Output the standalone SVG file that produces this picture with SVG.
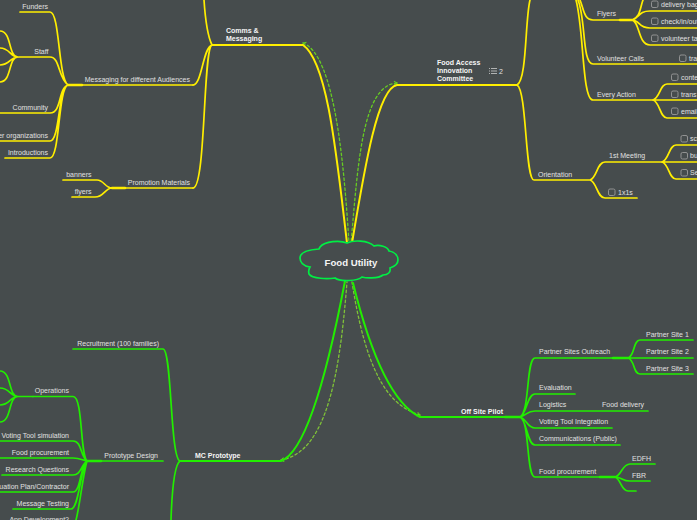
<svg xmlns="http://www.w3.org/2000/svg" width="697" height="520" viewBox="0 0 697 520">
<defs>
<marker id="ah" orient="auto-start-reverse" markerUnits="userSpaceOnUse" markerWidth="6" markerHeight="6" refX="4" refY="3" viewBox="0 0 6 6"><path d="M1 1L4 3L1 5" fill="none" stroke="#66cc22" stroke-width="1"/></marker>
</defs>
<style>
text{font-family:"Liberation Sans",Arial,sans-serif;font-size:7px;fill:#e0e0e0}
.b{font-weight:bold;fill:#f5f5f5}
.e{text-anchor:end}
.y,.g,.yd,.gd,.y2,.g2,.ym,.gm{fill:none;stroke-linecap:round}
.y{stroke:#ffee00;stroke-width:1.7}
.g{stroke:#22ee00;stroke-width:1.7}
.ym{stroke:#ffee00;stroke-width:2}
.gm{stroke:#22ee00;stroke-width:2}
.y2{stroke:#ffee00;stroke-width:2.6}
.g2{stroke:#22ee00;stroke-width:2.6}
.yd,.gd{stroke-width:1.300;stroke-dasharray:2.500 2.500;marker-start:url(#ah)}
.yd{stroke:#66cc22}
.gd{stroke:#7fc238}
.c{fill:none;stroke:#9a9a9a;stroke-width:.9}
</style>
<rect width="697" height="520" fill="#464c4d"/>
<g id="connectors">
<path class="yd" d="M303 43C335 55 344 165 349 243"/>
<path class="yd" d="M397 83C362 85 358 165 351 243"/>
<path class="gd" d="M281 460C328 452 340 370 347 282"/>
<path class="gd" d="M420 415C385 405 365 365 352 282"/>
<path class="ym" d="M303 45H212M303 45C328 62 337 160 347 243"/>
<path class="ym" d="M517 85H397C378 88 365 165 352 243"/>
<path class="y" d="M193 85C202 85 203 47 212 45M193 188C206 188 203 47 212 45M212 45C207 35 205 15 204 0"/>
<path class="y" d="M193 85H68M193 188H112"/>
<path class="y2" d="M68 85H82M112 188H125"/>
<path class="y" d="M20 12H50C60 12 58 78 68 85M50 57C60 57 58 78 68 85M19 57H50M0 113H50C62 113 58 88 68 85M0 141H50C60 141 58 88 68 85M5 158H50C60 158 58 88 68 85"/>
<path class="y" d="M0 31C12 31 8 57 18 57M0 48C10 48 10 57 18 57M0 65C10 65 10 57 18 57M0 82C12 82 8 57 18 57"/>
<path class="y" d="M63 180H97C104 180 105 188 112 188M72 197H95C104 197 105 188 112 188"/>
<path class="y" d="M517 85C527 80 525 20 530 0M517 85C527 90 525 180 534 180H590M590 180C597 178 597 162 605 162H662M590 180C597 182 597 198 605 198H637"/>
<path class="y" d="M580 0C584 10 584 20 593 20H632M578 0C586 20 582 64 593 64H697M576 0C584 30 582 100 593 100H653"/>
<path class="y2" d="M620 20H632"/>
<path class="y" d="M632 20C640 18 640 8 643 0M632 20C640 18 638 11 650 11H697M632 20C640 20 638 28 650 28H697M632 20C640 22 638 45 650 45H697"/>
<path class="y" d="M653 100C660 98 660 84 667 84H697M653 100H697M653 100C660 102 660 118 667 118H697"/>
<path class="y" d="M662 162C669 160 669 145 676 145H697M662 162H697M662 162C669 164 669 179 676 179H697"/>
<path class="gm" d="M420 417H520M281 461H180M281 461C306 452 328 370 345 281M420 417C395 405 372 360 353 283"/>
<path class="g2" d="M505 417H520"/>
<path class="g" d="M520 417C530 412 526 358 535 358H628M520 417C527 414 527 394 535 394H575M520 417C527 415 527 411 535 411H648M520 417C527 419 527 428 535 428H612M520 417C527 420 527 445 535 445H620M520 417C530 420 526 477 535 477H615"/>
<path class="g2" d="M613 358H628M600 477H615"/>
<path class="g" d="M628 358C635 356 633 340 640 340H693M628 358H693M628 358C635 360 633 374 640 374H693"/>
<path class="g" d="M615 477C622 475 622 464 630 464H655M615 477C622 477 622 481 630 481H650M615 477C621 479 621 491 628 491H636"/>
<path class="g" d="M180 461C170 458 172 349 163 349H73M180 461C174 465 172 490 171 520"/>
<path class="g" d="M163 461H87"/>
<path class="g2" d="M87 461H101"/>
<path class="g" d="M33 396.500H73C83 396 80 455 87 461M73 441C82 441 80 456 87 461M0 441H73M0 458H73C80 458 82 460 87 461M2 475H73C81 475 81 465 87 461M0 492H73C81 492 80 466 87 461M13 509H71C79 509 80 470 87 461M76 520C79 510 83 475 87 461"/>
<path class="g" d="M18 396.500H33M0 371C12 371 8 396.500 18 396.500M0 388C10 388 10 396.500 18 396.500M0 405C10 405 10 396.500 18 396.500M0 422C12 422 8 396.500 18 396.500"/>
</g>
<g id="root">
<path d="M320 247C325 241 340 240 347 243C353 240 368 240 374 246C379 244 388 247 389 251C395 252 398 256 398 260C398 265 393 267 390 268C391 272 388 275 383 275C378 279 365 278 362 277C358 281 340 282 335 278C328 279 312 279 309 274C308 270 309 269 310 267C303 266 300 262 300 258C300 253 305 250 319 249Z" fill="#464c4d" stroke="#00ee44" stroke-width="1.700"/>
<text class="b" x="351" y="266" text-anchor="middle" style="font-size:9.600px">Food Utility</text>
</g>
<g id="comms"><text class="b" x="226" y="33">Comms &amp;</text><text class="b" x="226" y="41">Messaging</text></g>
<g id="messaging"><text class="e" x="190" y="82">Messaging for different Audiences</text></g>
<g id="funders"><text class="e" x="48" y="9">Funders</text></g>
<g id="staff"><text class="e" x="48.500" y="54">Staff</text></g>
<g id="community"><text class="e" x="48" y="110">Community</text></g>
<g id="organizations"><text class="e" x="48" y="138">er organizations</text></g>
<g id="introductions"><text class="e" x="48" y="155">Introductions</text></g>
<g id="promotion"><text class="e" x="190" y="185">Promotion Materials</text></g>
<g id="banners"><text class="e" x="91.500" y="177">banners</text></g>
<g id="flyers-print"><text class="e" x="91.500" y="194">flyers</text></g>
<g id="food-access"><text class="b" x="437" y="65">Food Access</text><text class="b" x="437" y="73">Innovation</text><text class="b" x="437" y="81">Committee</text>
<path d="M491 68.500H497M491 71H497M491 73.500H497M489 68.500H490M489 71H490M489 73.500H490" stroke="#e0e0e0" stroke-width=".7" fill="none"/><text x="499" y="74">2</text></g>
<g id="flyers"><text x="597" y="16">Flyers</text></g>
<g id="delivery"><rect class="c" x="651.500" y="1" width="6.500" height="6.500" rx="1.500"/><text x="661" y="7">delivery bag</text></g>
<g id="checkin"><rect class="c" x="651.500" y="18" width="6.500" height="6.500" rx="1.500"/><text x="661" y="24">check/in/out</text></g>
<g id="volunteer-task"><rect class="c" x="651.500" y="35" width="6.500" height="6.500" rx="1.500"/><text x="661" y="41">volunteer ta</text></g>
<g id="volunteer-calls"><text x="597" y="61">Volunteer Calls</text></g>
<g id="training"><rect class="c" x="679.500" y="55" width="6.500" height="6.500" rx="1.500"/><text x="689" y="61">tra</text></g>
<g id="every-action"><text x="597" y="97">Every Action</text></g>
<g id="content"><rect class="c" x="671.500" y="74" width="6.500" height="6.500" rx="1.500"/><text x="681" y="80">conte</text></g>
<g id="trans"><rect class="c" x="671.500" y="91" width="6.500" height="6.500" rx="1.500"/><text x="681" y="97">trans</text></g>
<g id="email"><rect class="c" x="671.500" y="108" width="6.500" height="6.500" rx="1.500"/><text x="681" y="114">email</text></g>
<g id="orientation"><text x="538" y="177">Orientation</text></g>
<g id="first-meeting"><text x="609" y="158">1st Meeting</text></g>
<g id="sc"><rect class="c" x="681" y="135.500" width="6.500" height="6.500" rx="1.500"/><text x="690" y="141">sc</text></g>
<g id="bu"><rect class="c" x="681" y="152.500" width="6.500" height="6.500" rx="1.500"/><text x="690" y="158">bu</text></g>
<g id="se"><rect class="c" x="681" y="169.500" width="6.500" height="6.500" rx="1.500"/><text x="690" y="175">Se</text></g>
<g id="one-on-one"><rect class="c" x="608.500" y="189" width="6.500" height="6.500" rx="1.500"/><text x="618" y="195">1x1s</text></g>
<g id="off-site"><text class="b" x="461" y="414">Off Site Pilot</text></g>
<g id="partner-outreach"><text x="539" y="354">Partner Sites Outreach</text></g>
<g id="site1"><text x="646" y="337">Partner Site 1</text></g>
<g id="site2"><text x="646" y="354">Partner Site 2</text></g>
<g id="site3"><text x="646" y="371">Partner Site 3</text></g>
<g id="evaluation"><text x="539" y="390">Evaluation</text></g>
<g id="logistics"><text x="539" y="407">Logistics</text></g>
<g id="food-delivery"><text x="602" y="407">Food delivery</text></g>
<g id="voting-integration"><text x="539" y="424">Voting Tool Integration</text></g>
<g id="communications"><text x="539" y="441">Communications (Public)</text></g>
<g id="food-procurement-site"><text x="539" y="474">Food procurement</text></g>
<g id="edfh"><text x="632" y="461">EDFH</text></g>
<g id="fbr"><text x="632" y="478">FBR</text></g>
<g id="mc"><text class="b" x="195" y="458">MC Prototype</text></g>
<g id="recruitment"><text class="e" x="159" y="346">Recruitment (100 families)</text></g>
<g id="prototype"><text class="e" x="158" y="458">Prototype Design</text></g>
<g id="operations"><text class="e" x="69" y="393">Operations</text></g>
<g id="voting-sim"><text class="e" x="69" y="438">Voting Tool simulation</text></g>
<g id="food-procurement"><text class="e" x="69" y="455">Food procurement</text></g>
<g id="research"><text class="e" x="69" y="472">Research Questions</text></g>
<g id="evaluation-plan"><text class="e" x="69" y="489">uation Plan/Contractor</text></g>
<g id="message"><text class="e" x="69" y="506">Message Testing</text></g>
<g id="app"><text class="e" x="69" y="522">App Development?</text></g>
</svg>
